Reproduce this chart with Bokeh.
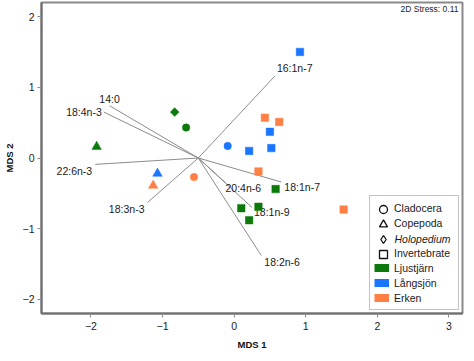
from bokeh.plotting import figure
from bokeh.models import Legend, LegendItem, Label, FixedTicker
from bokeh.core.properties import value
from bokeh.embed import file_html
from bokeh.resources import INLINE

# ---------------- data ----------------
lakes = ["Ljustjärn", "Långsjön", "Erken"]
lake_colors = ["#0b7a0b", "#1a75ff", "#ff7f45"]
taxa = ["Cladocera", "Copepoda", "Holopedium", "Invertebrate"]

pt_lake = ["Ljustjärn"] * 7 + ["Långsjön"] * 6 + ["Erken"] * 6
pt_taxon = ["Copepoda", "Holopedium", "Cladocera",
            "Invertebrate", "Invertebrate", "Invertebrate", "Invertebrate",
            "Invertebrate", "Invertebrate", "Invertebrate", "Invertebrate",
            "Cladocera", "Copepoda",
            "Invertebrate", "Invertebrate", "Invertebrate", "Invertebrate",
            "Copepoda", "Cladocera"]
pt_x = [-1.92, -0.83, -0.67, 0.58, 0.10, 0.34, 0.21,
        0.92, 0.50, 0.52, 0.21, -0.09, -1.07,
        0.43, 0.63, 0.34, 1.53, -1.13, -0.56]
pt_y = [0.16, 0.65, 0.43, -0.44, -0.71, -0.69, -0.88,
        1.50, 0.37, 0.14, 0.10, 0.17, -0.22,
        0.57, 0.51, -0.19, -0.73, -0.39, -0.27]

vec_origin_x = -0.50
vec_origin_y = 0.00
vec_names = ["14:0", "18:4n-3", "22:6n-3", "18:3n-3", "16:1n-7",
             "18:1n-7", "20:4n-6", "18:1n-9", "18:2n-6"]
vec_x = [-1.74, -1.82, -1.94, -1.21, 0.57, 0.66, -0.12, 0.25, 0.38]
vec_y = [0.74, 0.65, -0.09, -0.63, 1.16, -0.34, -0.35, -0.70, -1.38]

stress_text = "2D Stress: 0.11"
x_ticks = [-2, -1, 0, 1, 2, 3]
y_ticks = [-2, -1, 0, 1, 2]

# ---------------- styles ----------------
FONT = "Liberation Sans"
FW, FH = 421, 311
NAN = float("nan")
marker_style = {
    "Cladocera": dict(marker="circle", size=7.5, angle=0.0, leg="circle"),
    "Copepoda": dict(marker="triangle", size=9.5, angle=0.0, leg="triangle"),
    "Holopedium": dict(marker="square", size=6.2, angle=0.785398, leg="diamond"),
    "Invertebrate": dict(marker="square", size=7.5, angle=0.0, leg="square"),
}
label_style = {
    "14:0": ("center", "bottom", 0, -1),
    "18:4n-3": ("right", "middle", -2, 0),
    "22:6n-3": ("right", "middle", -3, 7),
    "18:3n-3": ("right", "middle", -3, 6),
    "16:1n-7": ("left", "bottom", 2, -2),
    "18:1n-7": ("left", "middle", 3, 5),
    "20:4n-6": ("left", "middle", 0, 5),
    "18:1n-9": ("left", "middle", 2, 5),
    "18:2n-6": ("left", "middle", 3, 6),
}

p = figure(frame_width=FW, frame_height=FH,
           x_range=(-2.69, 3.19), y_range=(-2.2, 2.2),
           output_backend="svg", toolbar_location=None,
           min_border_left=32, min_border_right=3,
           min_border_top=2, min_border_bottom=31,
           background_fill_color="white", border_fill_color="white")
p.grid.visible = False
p.outline_line_color = "#8a8a8a"
p.outline_line_width = 2

for ax in (p.xaxis[0], p.yaxis[0]):
    ax.axis_line_color = "#6e6e6e"
    ax.axis_line_width = 2
    ax.major_tick_line_color = "#8a8a8a"
    ax.major_tick_out = 4
    ax.major_tick_in = 0
    ax.minor_tick_line_color = None
    ax.major_label_text_font = FONT
    ax.major_label_text_font_size = "10.5px"
    ax.major_label_text_color = "#222222"
    ax.axis_label_text_font = FONT
    ax.axis_label_text_font_size = "9.5px"
    ax.axis_label_text_font_style = "bold"
    ax.axis_label_text_color = "#111111"

p.xaxis.ticker = FixedTicker(ticks=x_ticks)
p.yaxis.ticker = FixedTicker(ticks=y_ticks)
p.xaxis.axis_label = "MDS 1"
p.yaxis.axis_label = "MDS 2"
p.xaxis.major_label_standoff = 4
p.xaxis.axis_label_standoff = 6
p.yaxis.major_label_standoff = 3
p.yaxis.axis_label_standoff = 5

# vectors
n = len(vec_names)
p.segment(x0=[vec_origin_x] * n, y0=[vec_origin_y] * n, x1=vec_x, y1=vec_y,
          line_color="#8c8c8c", line_width=1)
for name, vx, vy in zip(vec_names, vec_x, vec_y):
    al, bl, dx, dy = label_style[name]
    p.text(x=[vx], y=[vy], text=[name], text_align=al, text_baseline=bl,
           x_offset=dx, y_offset=dy, text_font_size="10.5px",
           text_font=value(FONT), text_color="#1a1a1a")

# points
color_of = dict(zip(lakes, lake_colors))
for t in taxa:
    xs = [x for x, tt in zip(pt_x, pt_taxon) if tt == t]
    ys = [y for y, tt in zip(pt_y, pt_taxon) if tt == t]
    cs = [color_of[l] for l, tt in zip(pt_lake, pt_taxon) if tt == t]
    st = marker_style[t]
    p.scatter(x=xs, y=ys, marker=st["marker"], size=st["size"], angle=st["angle"],
              fill_color=cs, line_color=cs, line_width=0.5)

# ---------------- legend ----------------
# main box: labels for taxa (glyphs drawn by small overlay legends), colour bars for lakes
PAD, GW, GH, LS, LW, MG = 4, 15, 15, 5, 60, 3
blank = p.scatter(x=[NAN], y=[NAN], marker="circle", size=1,
                  fill_color=None, line_color=None)
items = [LegendItem(label=" " if t == "Holopedium" else t, renderers=[blank])
         for t in taxa]
for l, c in zip(lakes, lake_colors):
    r = p.line(x=[NAN, NAN], y=[NAN, NAN], line_color=c, line_width=8)
    items.append(LegendItem(label=l, renderers=[r]))

legend = Legend(items=items, location="bottom_right", margin=MG, padding=PAD,
                spacing=0, glyph_width=GW, glyph_height=GH, label_height=GH,
                label_width=LW, label_standoff=LS,
                label_text_font=FONT, label_text_font_size="10.5px",
                label_text_color="#1a1a1a",
                border_line_color="#8a8a8a", border_line_width=1.5,
                background_fill_color="white", background_fill_alpha=1)
p.add_layout(legend)

leg_w = 2 * PAD + GW + LS + LW
leg_h = 2 * PAD + len(items) * GH
box_left = FW - MG - leg_w
box_top = MG + leg_h
glyph_cx = box_left + PAD + GW / 2
label_x = box_left + PAD + GW + LS
G2 = 20
for i, t in enumerate(taxa):
    st = marker_style[t]
    r = p.scatter(x=[NAN], y=[NAN], marker=st["leg"], size=6,
                  fill_color=None, line_color="#111111", line_width=1.3)
    row_cy = box_top - PAD - i * GH - GH / 2
    lg = Legend(items=[LegendItem(label="Holopedium" if t == "Holopedium" else " ",
                                  renderers=[r])],
                location=(glyph_cx - G2 / 2, row_cy - G2 / 2),
                margin=0, padding=0, spacing=0,
                glyph_width=G2, glyph_height=G2, label_height=G2,
                label_width=1, label_standoff=int(round(label_x - (glyph_cx + G2 / 2))),
                label_text_font=FONT, label_text_font_size="10.5px",
                label_text_font_style="italic", label_text_color="#1a1a1a",
                border_line_color=None, background_fill_alpha=0)
    p.add_layout(lg)

p.add_layout(Label(x=FW - 4, y=FH - 6.5, x_units="screen", y_units="screen",
                   text=stress_text, text_font=FONT, text_font_size="8.5px",
                   text_color="#222222", text_align="right", text_baseline="middle"))

open("out.html", "w").write(file_html(p, INLINE))
